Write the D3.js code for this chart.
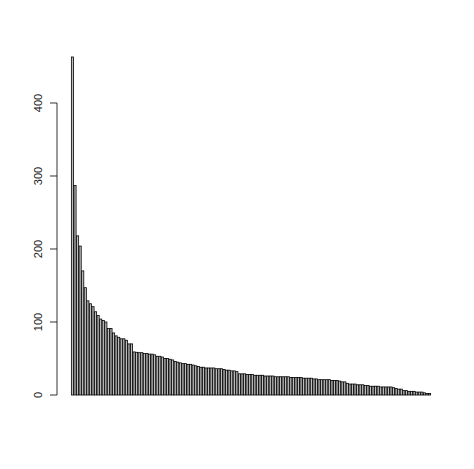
<!DOCTYPE html>
<html>
<head>
<meta charset="utf-8">
<script src="https://cdn.jsdelivr.net/npm/d3@7"></script>
<style>
  html, body { margin: 0; padding: 0; background: #ffffff; }
  svg { display: block; }
</style>
</head>
<body>
<svg id="chart" width="474" height="469"></svg>
<script>
// ---- data (sorted descending) ----
const values = [
  463, 287, 218, 204, 170, 147, 129, 125, 121, 114,
  109, 104, 102, 100, 91, 91, 85, 81, 79, 77,
  77, 75, 70, 70, 59, 58.5, 58, 58, 57, 57,
  56, 56, 55, 53, 53, 52, 50, 50, 49, 48,
  46, 45, 44, 43, 43, 42, 42, 41, 40, 39,
  38, 38, 37, 37, 37, 37, 36, 36, 36, 35,
  34, 34, 33, 33, 32, 29, 29, 29, 28, 28,
  28, 27, 27, 27, 27, 26, 26, 26, 26, 25,
  25, 25, 25, 25, 25, 24, 24, 24, 24, 24,
  23, 23, 23, 23, 22, 22, 21, 21, 21, 21,
  21, 20, 20, 20, 19, 18, 18, 16, 15, 15,
  15, 14, 14, 14, 13, 13, 12, 12, 12, 12,
  11, 11, 11, 11, 11, 10, 9, 8, 8, 6,
  6, 5, 5, 5, 4, 4, 4, 3, 2, 2
];
const yTicks = [0, 100, 200, 300, 400];

// ---- layout (R barplot defaults: space = 0.2, 4% x extension) ----
const W = 474, H = 469;
const plot = { left: 57, right: 445, top: 57, bottom: 395 };
const space = 0.2;
const n = values.length;
const xLo = space, xHi = n * (1 + space);
const ext = 0.04 * (xHi - xLo);

const x = d3.scaleLinear()
  .domain([xLo - ext, xHi + ext])
  .range([plot.left, plot.right]);
const y = d3.scaleLinear()
  .domain([0, d3.max(values)])
  .range([plot.bottom, plot.top]);

const svg = d3.select("#chart");

// bars
svg.append("g")
  .selectAll("rect")
  .data(values)
  .join("rect")
  .attr("x", (d, i) => x(space + i * (1 + space)))
  .attr("width", (d, i) => x(space + i * (1 + space) + 1) - x(space + i * (1 + space)))
  .attr("y", d => y(d))
  .attr("height", d => y(0) - y(d))
  .attr("fill", "#bebebe")
  .attr("stroke", "#000000")
  .attr("stroke-width", 0.8);

// y axis (R style: line from first to last tick, ticks outward, rotated labels)
const axis = svg.append("g").attr("transform", `translate(${plot.left},0)`);
axis.append("line")
  .attr("x1", 0).attr("x2", 0)
  .attr("y1", y(yTicks[0])).attr("y2", y(yTicks[yTicks.length - 1]))
  .attr("stroke", "#000").attr("stroke-width", 0.8);
const tick = axis.selectAll("g.tick")
  .data(yTicks)
  .join("g")
  .attr("class", "tick")
  .attr("transform", d => `translate(0,${y(d)})`);
tick.append("line")
  .attr("x1", -7).attr("x2", 0)
  .attr("stroke", "#000").attr("stroke-width", 0.8);
tick.append("text")
  .attr("transform", "translate(-19.5,0) rotate(-90)")
  .attr("text-anchor", "middle")
  .attr("dominant-baseline", "central")
  .attr("font-family", "Liberation Sans, Arial, Helvetica, sans-serif")
  .attr("font-size", 11)
  .attr("fill", "#222")
  .text(d => d);
</script>
</body>
</html>
